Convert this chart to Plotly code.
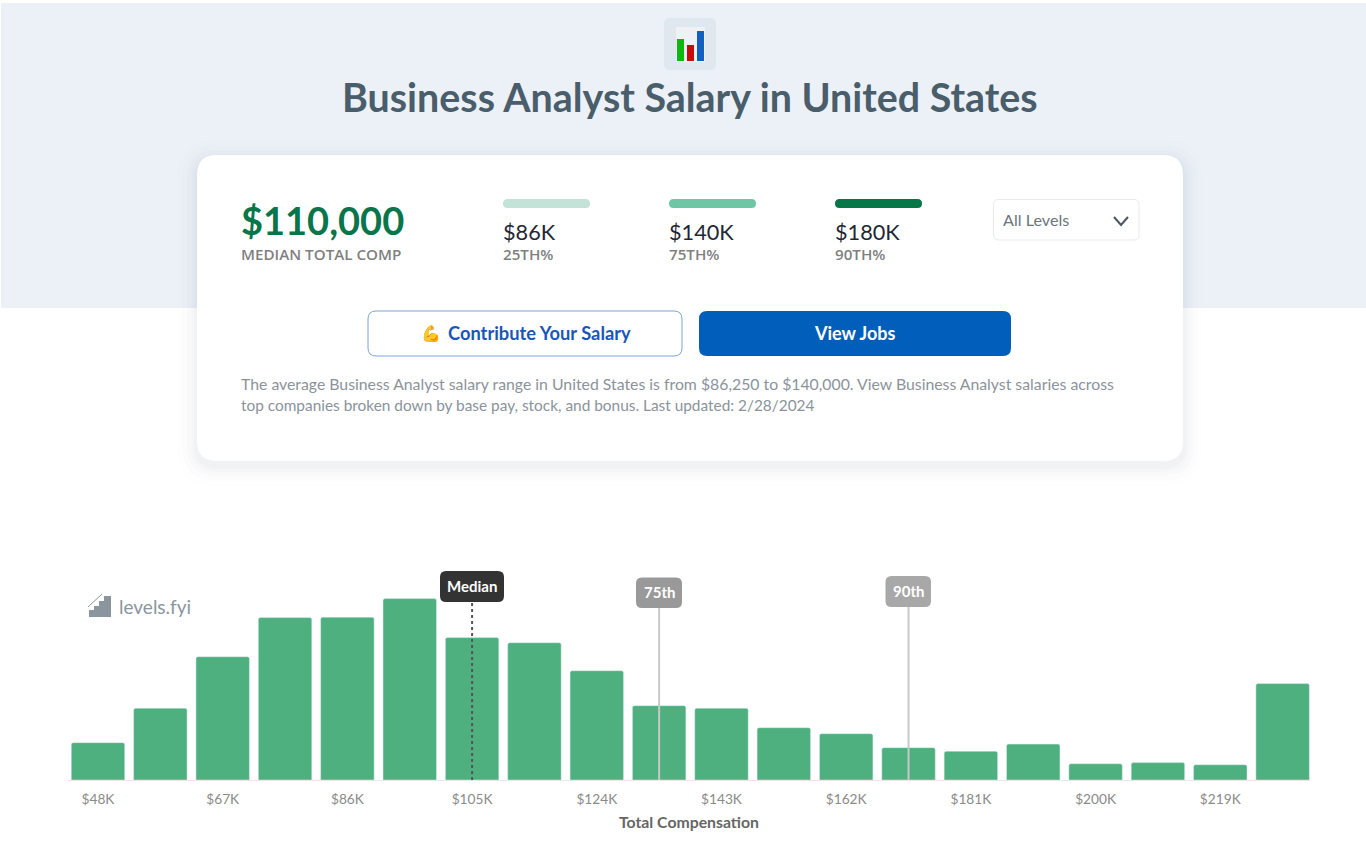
# -*- coding: utf-8 -*-

import plotly.graph_objects as go

# Salary histogram data (share of salaries per bin, %)

bin_centers = [48, 57.5, 67, 76.5, 86, 95.5, 105, 114.5, 124, 133.5, 143, 152.5, 162, 171.5, 181, 190.5, 200, 209.5, 219, 228.5]
bin_shares = [2.32, 4.46, 7.66, 10.09, 10.12, 11.27, 8.85, 8.53, 6.79, 4.62, 4.46, 3.25, 2.88, 2.01, 1.79, 2.23, 1.01, 1.08, 0.95, 5.99]

tick_values = [48, 67, 86, 105, 124, 143, 162, 181, 200, 219]
tick_labels = ["$48K", "$67K", "$86K", "$105K", "$124K", "$143K", "$162K", "$181K", "$200K", "$219K"]

marker_names = ["Median", "75th", "90th"]
marker_values = [105, 133.5, 171.5]

percentile_values = ["$86K", "$140K", "$180K"]
percentile_names = ["25TH%", "75TH%", "90TH%"]

FONT = "Lato"
CAPS_FONT = "Open Sans"
W = 1366
H = 841
GREEN = "#4db07e"


# helpers: page pixels to paper coordinates

def px(x):
    return x / W


def py(y):
    return 1 - y / H


def rounded(x0, y0, x1, y1, r):
    return (f"M{px(x0 + r)},{py(y0)} L{px(x1 - r)},{py(y0)} Q{px(x1)},{py(y0)} {px(x1)},{py(y0 + r)} "
            f"L{px(x1)},{py(y1 - r)} Q{px(x1)},{py(y1)} {px(x1 - r)},{py(y1)} "
            f"L{px(x0 + r)},{py(y1)} Q{px(x0)},{py(y1)} {px(x0)},{py(y1 - r)} "
            f"L{px(x0)},{py(y0 + r)} Q{px(x0)},{py(y0)} {px(x0 + r)},{py(y0)} Z")


def box(x0, y0, x1, y1, r, fill, line=None, layer="below", opacity=1):
    return dict(type="path", path=rounded(x0, y0, x1, y1, r), xref="paper", yref="paper", fillcolor=fill,
                line=dict(color=line or fill, width=1 if line else 0), layer=layer, opacity=opacity)


def label(x, y, text, size, color, anchor="left", weight=400, family=FONT):
    # annotations carry a small padding, pull left aligned text back by it
    if anchor == "left":
        x = x - 2.5
    return dict(x=px(x), y=py(y - 1), xref="paper", yref="paper", text=text, showarrow=False, xanchor=anchor,
                yanchor="middle", align=anchor, font=dict(family=family, size=size, color=color, weight=weight))


shapes = []
notes = []

# Header band and icon

shapes.append(dict(type="rect", xref="paper", yref="paper", x0=px(1), x1=1, y0=py(308), y1=py(3),
                   fillcolor="#ecf1f8", line_width=0, layer="below"))
shapes.append(box(664, 18, 716, 70, 6, "#e0e7ee"))
shapes.append(box(676, 27, 705, 62, 0, "#eef2f6"))
shapes.append(box(677, 39, 684, 61, 0, "#0fb80f"))
shapes.append(box(687, 45, 694, 61, 0, "#c80c0c"))
shapes.append(box(697, 31, 704, 61, 0, "#1460c0"))
notes.append(label(690, 98, "Business Analyst Salary in United States", 39.4, "#4a5d6a", "center", 700))

# Card with a soft shadow

for grow, alpha in [(20, 0.008), (15, 0.01), (10, 0.014), (6, 0.02), (3, 0.025)]:
    shapes.append(box(197 - grow, 155 - grow + 5, 1183 + grow, 461 + grow + 5, 20 + grow, "#44546a", opacity=alpha))
shapes.append(box(197, 155, 1183, 461, 20, "#ffffff"))

notes.append(label(241, 221, "$110,000", 38, "#08754a", "left", 700))
notes.append(label(241, 255, "MEDIAN TOTAL COMP", 15.2, "#7f7f7f", "left", 600, CAPS_FONT))

strip_left = [503, 669, 835]
strip_colors = ["#c3e3d8", "#6fc6a6", "#067748"]
for left, color, value, name in zip(strip_left, strip_colors, percentile_values, percentile_names):
    shapes.append(box(left, 199, left + 87, 208, 4.5, color))
    notes.append(label(left, 233, value, 21.7, "#1f2733"))
    notes.append(label(left, 255, name, 15.2, "#7f7f7f", "left", 600, CAPS_FONT))

# Level dropdown

shapes.append(box(993.5, 199.5, 1139, 240, 5, "#ffffff", "#e6eaee"))
notes.append(label(1003, 220, "All Levels", 16.2, "#6b757d"))
shapes.append(dict(type="path", xref="paper", yref="paper", line=dict(color="#4a5560", width=2), layer="below",
                   path=f"M{px(1114)},{py(217)} L{px(1121)},{py(225)} L{px(1128)},{py(217)}"))

# Buttons

shapes.append(box(368, 311, 682, 356, 8, "#ffffff", "#7ea3d8"))
shapes.append(box(699, 311, 1011, 356, 8, "#025ebb"))
notes.append(label(431, 334, "💪", 16, "#f5b335", "center"))
notes.append(label(448, 334, "Contribute Your Salary", 18.3, "#1a56b8", "left", 700))
notes.append(label(855, 334, "View Jobs", 18, "#ffffff", "center", 700))

# Card description

notes.append(label(241, 384, "The average Business Analyst salary range in United States is from $86,250 to $140,000. View Business Analyst salaries across", 15.8, "#8a939b"))
notes.append(label(241, 406, "top companies broken down by base pay, stock, and bonus. Last updated: 2/28/2024", 15.4, "#8a939b"))

# levels.fyi logo

stairs = [(89, 617), (89, 610), (94, 610), (94, 606), (99, 606), (99, 601), (104, 601), (104, 596), (111, 596), (111, 617)]
shapes.append(dict(type="path", xref="paper", yref="paper", fillcolor="#8a959e", line_width=0, layer="below",
                   path="M" + " L".join(f"{px(a)},{py(b)}" for a, b in stairs) + " Z"))
shapes.append(dict(type="path", xref="paper", yref="paper", line=dict(color="#8a959e", width=1), layer="below",
                   path=f"M{px(88)},{py(607)} L{px(102)},{py(594)}"))
notes.append(label(119, 607, "levels.fyi", 19, "#8a959e"))

# Percentile markers over the bars

marker_top = [602, 608, 607]
marker_box = [(440, 571, 504, 602), (636, 577.5, 682, 608), (885.5, 576, 931, 607)]
marker_fill = ["#333333", "#999999", "#a8a8a8"]
marker_line = [dict(color="#555555", width=2, dash="dot"), dict(color="#c8c8c8", width=2), dict(color="#c8c8c8", width=2)]

for name, value, top, b, fill, ln in zip(marker_names, marker_values, marker_top, marker_box, marker_fill, marker_line):
    shapes.append(dict(type="line", xref="x", yref="paper", x0=value, x1=value, y0=py(780), y1=py(top), line=ln, layer="above"))
    shapes.append(box(*b, 6, fill, layer="above"))
    notes.append(label((b[0] + b[2]) / 2, (b[1] + b[3]) / 2, name, 15, "#ffffff", "center", 700))

# Plot graph

fig = go.Figure(go.Bar(x=bin_centers, y=bin_shares, marker=dict(color=GREEN, cornerradius=2), width=8.15))

fig.update_layout(
    width=W, height=H, margin=dict(l=0, r=0, t=0, b=0), paper_bgcolor="#ffffff", plot_bgcolor="#ffffff",
    showlegend=False, shapes=shapes, annotations=notes, font=dict(family=FONT),
    xaxis=dict(domain=[px(68), px(1310)], range=[43.43, 232.67], tickvals=tick_values, ticktext=tick_labels,
               tickfont=dict(family=FONT, size=13.7, color="#8a8a8a"), ticks="outside", ticklen=7, tickcolor="rgba(0,0,0,0)",
               showgrid=False, zeroline=False, showline=True, linecolor="#e8e8e8", linewidth=1,
               title=dict(text="Total Compensation", standoff=10, font=dict(family=FONT, size=15.8, color="#666666", weight=700))),
    yaxis=dict(domain=[py(780), py(560)], range=[0, 13.67], visible=False),
)

fig.write_html("out.html", config=dict(displayModeBar=False),
               post_script="document.body.style.margin='0';document.body.style.overflow='hidden';")
